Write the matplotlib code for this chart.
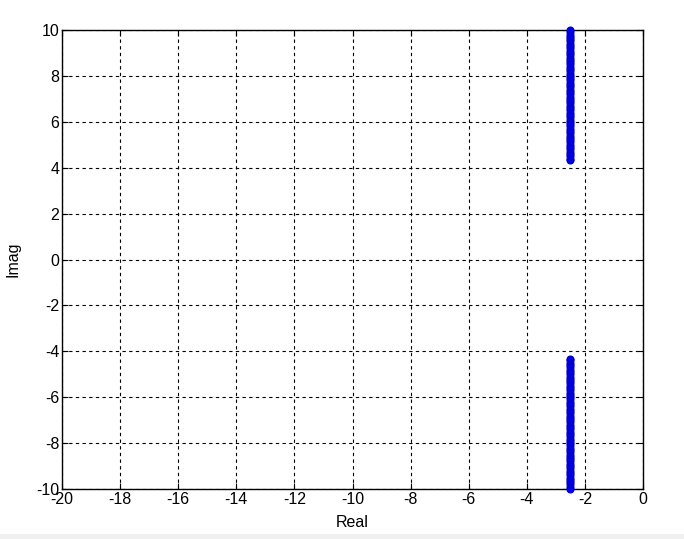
import matplotlib
matplotlib.use("Agg")
import matplotlib.pyplot as plt

plt.rcParams['font.family'] = ['Liberation Sans', 'DejaVu Sans']
plt.rcParams['axes.unicode_minus'] = False

real_part = -2.5
imag_upper = [4.33, 4.4, 4.5, 4.6, 4.7, 4.8, 4.9, 5.0, 5.1, 5.2, 5.3, 5.4, 5.5,
              5.6, 5.7, 5.8, 5.9, 6.0, 6.1, 6.2, 6.3, 6.4, 6.5, 6.6, 6.7, 6.8,
              6.9, 7.0, 7.1, 7.2, 7.3, 7.4, 7.5, 7.6, 7.7, 7.8, 7.9, 8.0, 8.1,
              8.2, 8.3, 8.4, 8.5, 8.6, 8.7, 8.8, 8.9, 9.0, 9.1, 9.2, 9.3, 9.4,
              9.5, 9.6, 9.7, 9.8, 9.9, 10.0]
imag_lower = [-v for v in imag_upper]

xticks = [-20, -18, -16, -14, -12, -10, -8, -6, -4, -2, 0]
yticks = [-10, -8, -6, -4, -2, 0, 2, 4, 6, 8, 10]

fig = plt.figure(figsize=(6.84, 5.39), dpi=100)
fig.patches.append(plt.Rectangle((0, 0), 1, 5/539, transform=fig.transFigure,
                                 facecolor='#f0f0f0', edgecolor='none'))
ax = fig.add_axes([62/684, 1 - 489/539, (643-62)/684, (489-30)/539])

for imag in (imag_upper, imag_lower):
    ax.plot([real_part]*len(imag), imag, linestyle='none', marker='o',
            markersize=5.0, markerfacecolor='#0000ee', markeredgecolor='#0000cc',
            markeredgewidth=0.8, clip_on=False, zorder=3)

ax.set_xlim(-20, 0)
ax.set_ylim(-10, 10)
ax.set_xticks(xticks)
ax.set_yticks(yticks)
ax.grid(True, color='black', linestyle=(0, (3, 3)), linewidth=0.8)
ax.tick_params(direction='in', top=True, right=True, length=4, labelsize=11.5,
               width=0.8, pad=2)
for s in ax.spines.values():
    s.set_linewidth(1.0)
ax.set_xlabel('Real', fontsize=11.5, labelpad=6)
ax.set_ylabel('Imag', fontsize=11.5, labelpad=11)

fig.savefig('out.png', dpi=100, facecolor='white')
